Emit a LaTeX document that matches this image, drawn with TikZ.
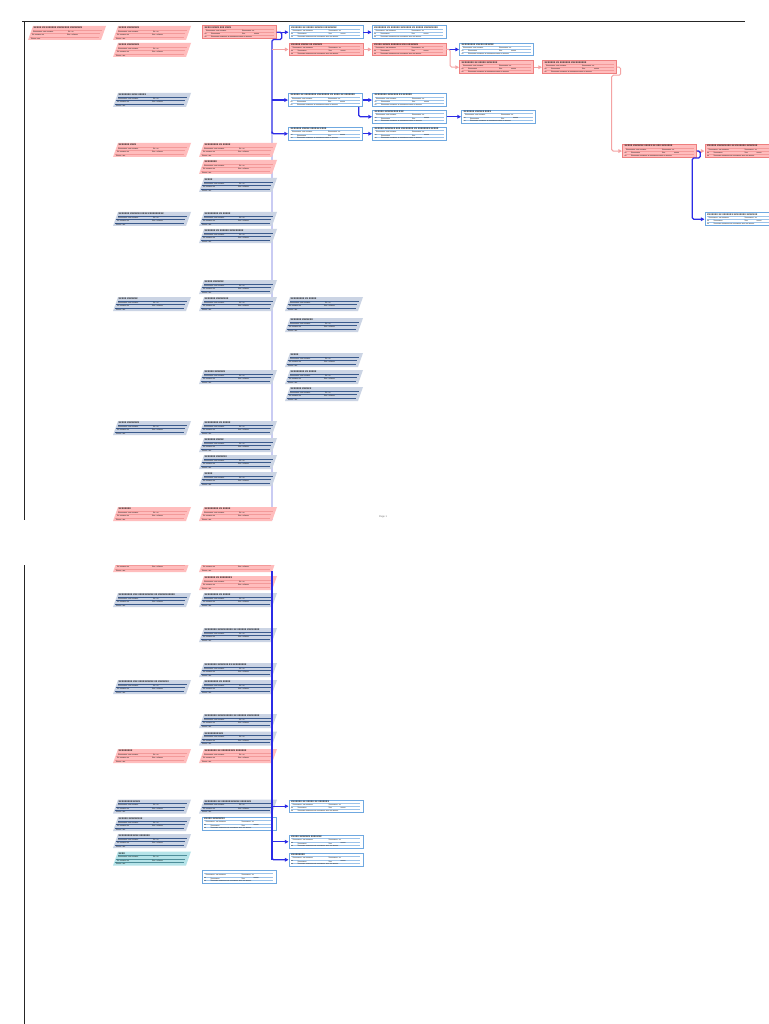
\documentclass[tikz,border=0pt]{standalone}
\usepackage{fontspec}
\setmainfont{Liberation Sans}
\usetikzlibrary{arrows.meta}
\definecolor{pkfill}{HTML}{FFBDBD}
\definecolor{pkline}{HTML}{F39A9A}
\definecolor{pkedge}{HTML}{EE7F7F}
\definecolor{bgfill}{HTML}{CBD4E4}
\definecolor{bgline}{HTML}{3A5A8C}
\definecolor{tlfill}{HTML}{B5E3E8}
\definecolor{tlline}{HTML}{4E8E9A}
\definecolor{rbedge}{HTML}{6FA8E0}
\definecolor{rbline}{HTML}{9CC3EA}
\definecolor{dblue}{HTML}{2B2BE6}
\definecolor{pale}{HTML}{C9CBF3}
\definecolor{pkconn}{HTML}{F4A3A3}
\tikzset{
  ptitle/.style={anchor=west,inner sep=0,font=\fontsize{2.3}{2.5}\selectfont\bfseries},
  ptext/.style={anchor=west,inner sep=0,font=\fontsize{1.9}{2.1}\selectfont},
  dline/.style={draw=dblue,line width=1.3pt,rounded corners=1.5pt,-{Triangle[length=3.6pt,width=3.6pt]}},
  dtrunk/.style={draw=dblue,line width=1.3pt,rounded corners=1.5pt},
  pline/.style={draw=pkconn,line width=1pt,rounded corners=1.5pt,-{Triangle[length=3.6pt,width=3.6pt]}},
  ptrunk/.style={draw=pkconn,line width=1pt,rounded corners=1.5pt},
  paleline/.style={draw=pale,line width=1.3pt},
  rblue/.style={draw=rbedge,fill=white,line width=0.7pt},
  rpink/.style={draw=pkedge,fill=pkfill,line width=0.7pt},
  hitbox/.style={inner sep=0,minimum width=73pt,minimum height=14pt,anchor=north west},
  frame/.style={draw=black!85,line width=1pt},
}
\newcommand{\PG}[6]{%
\begin{scope}[shift={(#2,#3)}]
\fill[#4] (0,14) -- (73,14) -- (78,0) -- (5,0) -- cycle;
\foreach \h in {4,7.4,10.8}{\draw[#5,line width=0.5pt] ({6-5*\h/14},\h) -- ({75-5*\h/14},\h);}
\node[ptitle] at (5.5,2) {#6};
\node[ptext] at (5,5.7) {Xxxxxxxxx: xxx xxxxxxx};
\node[ptext] at (40,5.7) {Xx: xx};
\node[ptext] at (4,9.1) {Xx xxxxxxx xx};
\node[ptext] at (39,9.1) {Xxx: xx/xxxx};
\node[ptext] at (3,12.4) {Xxxxx: xxx};
\end{scope}
\node[hitbox] (#1) at (#2+2.5,#3) {};}
\newcommand{\RB}[6]{%
\node[#4,hitbox,minimum width=74pt,minimum height=12.8pt] (#1) at (#2,#3) {};
\begin{scope}[shift={(#2,#3)}]
\foreach \h in {3.5,6.9,9.8}{\draw[#5,line width=0.45pt] (2.5,\h) -- (71.5,\h);}
\node[ptitle] at (2.5,1.8) {#6};
\node[ptext] at (4,5.2) {Xxxxxxxxx: xxx xxxxxxx};
\node[ptext] at (40,5.2) {Xxxxxxxxx: xx};
\node[ptext] at (2.5,8.4) {xx};
\node[ptext] at (9,8.4) {Xxxxxxxxx};
\node[ptext] at (40,8.4) {Xxx};
\node[ptext] at (52,8.4) {xxxxx};
\node[ptext] at (2.5,11.3) {xx};
\node[ptext] at (9,11.3) {Xxxxxxxx xxxxxxxx xx xxxxxxxxx xxxx xx xxxxxx};
\end{scope}}
\begin{document}
\begin{tikzpicture}[x=1pt,y=-1pt]
\useasboundingbox (0,0) rectangle (768,1024);
\fill[white] (0,0) rectangle (768,1024);
% frames
\draw[frame] (22,22) -- (745,22);
\draw[frame] (24,22) -- (24,520);
\draw[frame] (24,565) -- (24,1024);
% ---------- page 1 ----------
\coordinate (tk1) at (272,39.5);
\coordinate (tkend) at (272,520);
\draw[paleline] (272,133) -- (tkend);
\PG{A1}{28}{26}{pkfill}{pkline}{XXXXX XX XXXXXXX XXXXXXXX XXXXXXXX}
\PG{B1}{113}{26}{pkfill}{pkline}{XXXXX XXXXXXXX}
\PG{B2}{113}{43}{pkfill}{pkline}{XXXXX XXXXXXXX}
\PG{B3}{113}{93}{bgfill}{bgline}{XXXXXXXX XXXX XXXXX}
\PG{B4}{113}{143}{pkfill}{pkline}{XXXXXXX XXXX}
\PG{B5}{113}{212}{bgfill}{bgline}{XXXXXXX XXXXXXX XXXX XXXXXXXXXX}
\PG{B6}{113}{297}{bgfill}{bgline}{XXXXX XXXXXXX}
\PG{B7}{113}{421}{bgfill}{bgline}{XXXXX XXXXXXXX}
\PG{B8}{113}{507}{pkfill}{pkline}{XXXXXXXX}
\PG{C2}{199}{143}{pkfill}{pkline}{XXXXXXXXX XX XXXXX}
\PG{C3}{199}{160}{pkfill}{pkline}{XXXXXXXX}
\PG{C4}{199}{178}{bgfill}{bgline}{XXXXX}
\PG{C5}{199}{212}{bgfill}{bgline}{XXXXXXXXX XX XXXXX}
\PG{C6}{199}{229}{bgfill}{bgline}{XXXXXXX XX XXXXXX XXXXXXXXX}
\PG{C7}{199}{280}{bgfill}{bgline}{XXXXX XXXXXXX}
\PG{C8}{199}{297}{bgfill}{bgline}{XXXXXXX XXXXXXXX}
\PG{C9}{199}{370}{bgfill}{bgline}{XXXXXX XXXXXXX}
\PG{C10}{199}{421}{bgfill}{bgline}{XXXXXXXXX XX XXXXX}
\PG{C11}{199}{438}{bgfill}{bgline}{XXXXXXX XXXXX}
\PG{C12}{199}{455}{bgfill}{bgline}{XXXXXXX XXXXXXX}
\PG{C13}{199}{472}{bgfill}{bgline}{XXXXX}
\PG{C14}{199}{507}{pkfill}{pkline}{XXXXXXXXX XX XXXXX}
\PG{E1}{285}{297}{bgfill}{bgline}{XXXXXXXXX XX XXXXX}
\PG{E2}{285}{318}{bgfill}{bgline}{XXXXXXX XXXXXXX}
\PG{E3}{285}{353}{bgfill}{bgline}{XXXXX}
\PG{E4}{285}{370}{bgfill}{bgline}{XXXXXXXXX XX XXXXX}
\PG{E5}{285}{387}{bgfill}{bgline}{XXXXXXX XXXXXX}
\RB{C1}{202}{25.5}{rpink}{pkline}{XXXX XXXXX XXX XXXX}
\RB{R1}{288.5}{25.5}{rblue}{rbline}{XXXXXXX XX XXXXX XXXXXX XXXXXXXX}
\RB{R2}{371.5}{25.5}{rblue}{rbline}{XXXXXXXX XX XXXXXX XXXXXXX XX XXXXX XXXXXXXXX}
\RB{P1}{288.5}{42.7}{rpink}{pkline}{XXXXXX XXXXX XX XXXXXX}
\RB{P2}{371.5}{42.7}{rpink}{pkline}{XXXXX XXXXX XXXXXXX XXX XXXXXXX}
\RB{R3}{459}{42.7}{rblue}{rbline}{XXXXXXXXX XXXXX XXXXXX}
\RB{P3}{459}{60.5}{rpink}{pkline}{XXXXXXXX XX XXXXX XXXXXXX}
\RB{P4}{542}{60.5}{rpink}{pkline}{XXXXXXX XX XXXXXXX XXXXXXXXXX}
\RB{R4}{288}{93.3}{rblue}{rbline}{XXXXXX XX XXXXXXXX XXXXXXXX XX XXXX XX XXXXXXX}
\RB{R5}{372}{93.3}{rblue}{rbline}{XXXXXXXX XXXXXXX XX XXXXXX}
\RB{R6}{372}{110}{rblue}{rbline}{XXXXXX XXXXXXXXX XXX}
\RB{R7}{461}{110}{rblue}{rbline}{XXXXXXX XXXXXX XXXX}
\RB{R8}{288}{127}{rblue}{rbline}{XXXXXXX XXXXX XXXXXX XXXX}
\RB{R9}{372}{127}{rblue}{rbline}{XXXXXX XXXXXXX XXX XXXXXXXX XX XXXXXXXX XXXXX}
\RB{P5}{622}{144.3}{rpink}{pkline}{XXXXX XXXXXXX XXXXX XX XXX XXXXXXX}
\RB{P6}{704.5}{144.3}{rpink}{pkline}{XXXXXX XXXXXXXXX XX XXXXXXX XXXXXXX}
\RB{R10}{704.5}{212.5}{rblue}{rbline}{XXXXXXX XX XXXXXXX XXXXXXXX XXXXXXX}
\node[font=\fontsize{2.5}{3}\selectfont,text=black!55] (pg1) at (383,517) {Page 1};
% connectors page 1
\draw[dline] (C1.east) -- (R1.west |- C1.east);
\draw[dtrunk] (C1.east) -- ++(5,0) |- (tk1) -- (tk1 |- R8.west);
\draw[dline] (tk1 |- R8.west) ++(0,-2) -- ++(0,2) -- (R8.west);
\draw[dline] (tk1 |- R4.west) -- (R4.west);
\draw[pline] (tk1 |- P1.west) -- (P1.west);
\draw[dline] (R1.east) -- (R2.west);
\draw[pline] (P1.east) -- (P2.west);
\draw[dline] (P2.east) -- (R3.west);
\draw[pline] (P2.east) -- ++(4,0) |- (P3.west);
\draw[pline] (P3.east) -- (P4.west);
\draw[pline] (P4.east) -- ++(4,0) -- ++(0,8) -- ++(-9,0) |- (P5.west);
\draw[pline] (P5.east) -- (P6.west);
\draw[dline] (P5.east) -- ++(3.5,0) -- ++(0,7) -- ++(-8,0) |- (R10.west);
\draw[dline] (R4.east) -- (R5.west);
\draw[dline] ([xshift=-4pt]R4.south east) |- (R6.west);
\draw[dline] (R6.east) -- (R7.west);
\draw[dline] (R8.east) -- (R9.west);
% ---------- page 2 ----------
\begin{scope}
\clip (0,565) rectangle (768,1024);
\PG{B8b}{113}{558}{pkfill}{pkline}{XXXXXXXX}
\PG{C14b}{199}{558}{pkfill}{pkline}{XXXXXXXXX XX XXXXX}
\end{scope}
\coordinate (tk2) at (272,571);
\PG{C15}{199}{576}{pkfill}{pkline}{XXXXXXX XX XXXXXXXX}
\PG{B9}{113}{593}{bgfill}{bgline}{XXXXXXXXX XXX XXXXXXXXXX XX XXXXXXXXXXX}
\PG{C16}{199}{593}{bgfill}{bgline}{XXXXXXXXX XX XXXXX}
\PG{C17}{199}{628}{bgfill}{bgline}{XXXXXXXX XXXXXXXXXX XX XXXXXX XXXXXXXX}
\PG{C18}{199}{663}{bgfill}{bgline}{XXXXXXXX XXXXXXX XX XXXXXXXXX}
\PG{B10}{113}{680}{bgfill}{bgline}{XXXXXXXXX XXX XXXXXXXXXX XX XXXXXXX}
\PG{C19}{199}{680}{bgfill}{bgline}{XXXXXXXXX XX XXXXX}
\PG{C20}{199}{714}{bgfill}{bgline}{XXXXXXXX XXXXXXXXXX XX XXXXXX XXXXXXXX}
\PG{C21}{199}{731.5}{bgfill}{bgline}{XXXXXXXXXXXX}
\PG{B11}{113}{749}{pkfill}{pkline}{XXXXXXXXX}
\PG{C22}{199}{749}{pkfill}{pkline}{XXXXXXXX XX XXXXXXXXX XXXXXXX}
\PG{B12}{113}{799.5}{bgfill}{bgline}{XXXXXXXXXXXXXX}
\PG{C23}{199}{799.5}{bgfill}{bgline}{XXXXXXXX XX XXXXXXXXXXXX XXXXXXX}
\PG{B13}{113}{817}{bgfill}{bgline}{XXXXXX XXXXXXXXX}
\PG{B14}{113}{834}{bgfill}{bgline}{XXXXXXXXXXXXX XXXXXXX}
\PG{B15}{113}{851.5}{tlfill}{tlline}{XXXX}
\RB{Cr1}{201.5}{817}{rblue}{rbline}{XXXXX XXXXXXXX}
\RB{Cr2}{201.5}{870}{rblue}{rbline}{}
\RB{D1}{288.5}{799.5}{rblue}{rbline}{XXXXXXX XX XXXXX XX XXXXXXX}
\RB{D2}{288.5}{835}{rblue}{rbline}{XXXXX XXXXXXX XXXXXXX}
\RB{D3}{288.5}{853}{rblue}{rbline}{XXXXXXXXX}
\draw[dtrunk] (tk2) -- (tk2 |- D3.west);
\draw[dline] (tk2 |- D3.west) ++(0,-2) -- ++(0,2) -- (D3.west);
\draw[dline] (tk2 |- D1.west) -- (D1.west);
\draw[dline] (tk2 |- D2.west) -- (D2.west);
\end{tikzpicture}
\end{document}
